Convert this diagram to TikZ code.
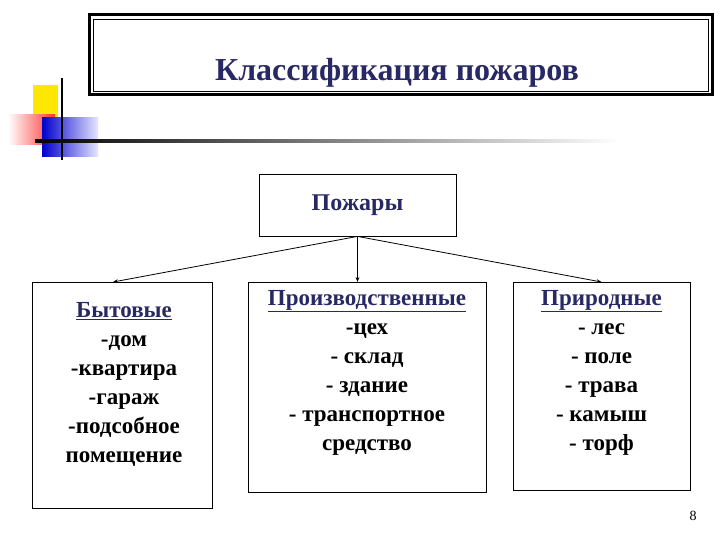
\documentclass[tikz,border=0pt]{standalone}
\usepackage{fontspec}
\setmainfont{Liberation Serif}
\usepackage{tikz}
\usetikzlibrary{arrows.meta,positioning}
\definecolor{navy}{RGB}{40,40,100}
\tikzset{
  box/.style={draw,line width=0.8pt},
  list/.style={align=center,anchor=north,inner sep=0pt,font=\bfseries\fontsize{23}{29}\selectfont}
}
\begin{document}
\begin{tikzpicture}[x=1pt,y=-1pt]
        \useasboundingbox (0,0) rectangle (720,540);
        % decoration
        \fill[yellow!90!orange] (33,85) rectangle (58,118);
        \shade[left color=white,right color=red!80] (8,115) rectangle (55,145);
        \shade[left color=blue!80!black,right color=blue!10] (42,118) rectangle (98,157);
        \draw[line width=1.5pt] (62,78) -- (62,160);
        \shade[left color=black,right color=white] (35,140) rectangle (620,142.5);
        % title
        \draw[line width=3pt] (89,15) rectangle (712,95);
        \draw[line width=0.8pt] (93,19) rectangle (708,91);
        \node[font=\bfseries\fontsize{32}{36}\selectfont,text=navy] (title) at (397,73) {Классификация пожаров};
        % boxes
        \node[box,minimum width=197,minimum height=62,text=navy,font=\bfseries\fontsize{24}{28}\selectfont] (fires) at (357.5,205) {Пожары};
        \node[box,minimum width=180,minimum height=226,anchor=north] (home) at (122,282) {};
        \node[box,minimum width=238,minimum height=210,anchor=north] (ind) at (367,282) {};
        \node[box,minimum width=177,minimum height=208,anchor=north] (nat) at (601.5,282) {};
        \node[list] (homet) at (124,302) {\textcolor{navy}{\underline{Бытовые}}\\-дом\\-квартира\\-гараж\\-подсобное\\помещение};
        \node[list] (indt) at (367,290) {\textcolor{navy}{\underline{Производственные}}\\-цех\\- склад\\- здание\\- транспортное\\средство};
        \node[list] (natt) at (601.5,290) {\textcolor{navy}{\underline{Природные}}\\- лес\\- поле\\- трава\\- камыш\\- торф};
        \node[font=\fontsize{14}{16}\selectfont] (page) at (693,516) {8};
        % arrows
        \draw[-{Stealth[length=5pt]},line width=0.8pt] (fires.south) -- (home.north -| 113,0);
        \draw[-{Stealth[length=5pt]},line width=0.6pt] (fires.south) -- (fires.south |- ind.north);
        \draw[-{Stealth[length=5pt]},line width=0.8pt] (fires.south) -- (nat.north);
\end{tikzpicture}
\end{document}
